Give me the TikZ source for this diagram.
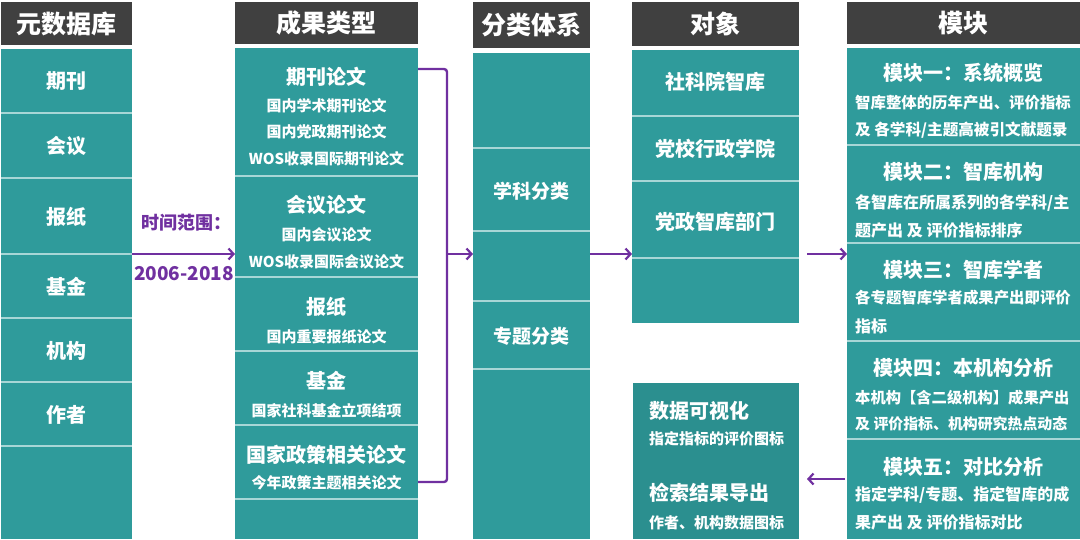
\documentclass[tikz,border=0pt]{standalone}
\usepackage{fontspec}
\setmainfont{Noto Sans CJK SC}
\usetikzlibrary{arrows.meta}
\definecolor{tealc}{HTML}{2F9B9B}
\definecolor{tealv}{HTML}{2B8F8F}
\definecolor{headc}{HTML}{404040}
\definecolor{divc}{HTML}{A8D6D6}
\definecolor{purp}{HTML}{7030A0}
\newcommand\mkcell[6]{\node[#2, minimum width=#5pt, minimum height=#6pt, anchor=north west] (#1) at (#3,#4) {};}
\newcommand\fs[1]{\fontsize{#1}{#1}\selectfont\bfseries}
\tikzset{
  cellbox/.style={fill=tealc, inner sep=0pt, outer sep=0pt},
  vizbox/.style={fill=tealv, inner sep=0pt, outer sep=0pt},
  headbox/.style={fill=headc, inner sep=0pt, outer sep=0pt},
  div/.style={draw=divc, line width=1.5pt},
  headtxt/.style={text=white, inner sep=0pt, font=\fs{25}},
  titletxt/.style={text=white, inner sep=0pt, font=\fs{20}},
  subtxt/.style={text=white, inner sep=0pt, font=\fs{15}},
  modsub/.style={text=white, inner sep=0pt, font=\fs{#1}, anchor=west},
  modsub/.default=16,
  timetxt/.style={text=purp, inner sep=0pt, font=\fs{18}},
  flow/.style={draw=purp, line width=2.4pt, -{Straight Barb[length=5pt,width=11pt,line width=2.2pt]}},
  brk/.style={draw=purp, line width=2.4pt, rounded corners=3pt}
}
\begin{document}
\begin{tikzpicture}[x=1pt,y=-1pt]
\useasboundingbox[fill=white] (0,0) rectangle (1080,539);
% column 1
\mkcell{c1h}{headbox}{1}{2}{131}{43}
\mkcell{c1a}{cellbox}{1}{49}{131}{64}
\mkcell{c1b}{cellbox}{1}{113}{131}{65}
\mkcell{c1c}{cellbox}{1}{178}{131}{76}
\mkcell{c1d}{cellbox}{1}{254}{131}{64}
\mkcell{c1e}{cellbox}{1}{318}{131}{64}
\mkcell{c1f}{cellbox}{1}{382}{131}{64}
\mkcell{c1g}{cellbox}{1}{446}{131}{93}
% column 2
\mkcell{c2h}{headbox}{235}{2}{183}{42}
\mkcell{c2a}{cellbox}{235}{48}{183}{128}
\mkcell{c2b}{cellbox}{235}{176}{183}{101}
\mkcell{c2c}{cellbox}{235}{277}{183}{74}
\mkcell{c2d}{cellbox}{235}{351}{183}{74}
\mkcell{c2e}{cellbox}{235}{425}{183}{74}
\mkcell{c2f}{cellbox}{235}{499}{183}{40}
% column 3
\mkcell{c3h}{headbox}{473}{2}{117}{46}
\mkcell{c3a}{cellbox}{473}{53}{117}{95}
\mkcell{c3b}{cellbox}{473}{148}{117}{83}
\mkcell{c3c}{cellbox}{473}{231}{117}{70}
\mkcell{c3d}{cellbox}{473}{301}{117}{68}
\mkcell{c3e}{cellbox}{473}{369}{117}{170}
% column 4
\mkcell{c4h}{headbox}{632}{2}{167}{44}
\mkcell{c4a}{cellbox}{632}{50}{167}{66}
\mkcell{c4b}{cellbox}{632}{116}{167}{65}
\mkcell{c4c}{cellbox}{632}{181}{167}{77}
\mkcell{c4d}{cellbox}{632}{258}{167}{65}
\mkcell{c4v}{vizbox}{633}{383}{166}{156}
% column 5
\mkcell{c5h}{headbox}{847}{2}{233}{42}
\mkcell{c5a}{cellbox}{847}{48}{233}{97}
\mkcell{c5b}{cellbox}{847}{145}{233}{98}
\mkcell{c5c}{cellbox}{847}{243}{233}{98}
\mkcell{c5d}{cellbox}{847}{341}{233}{98}
\mkcell{c5e}{cellbox}{847}{439}{233}{100}
% dividers
\foreach \c in {c1a,c1b,c1c,c1d,c1e,c1f,c2a,c2b,c2c,c2d,c2e,c3a,c3b,c3c,c3d,c4a,c4b,c4c,c5a,c5b,c5c,c5d}
  \draw[div] (\c.south west) -- (\c.south east);
% headers
\node[headtxt] (t1h) at (c1h.center) {元数据库};
\node[headtxt] (t2h) at (c2h.center) {成果类型};
\node[headtxt] (t3h) at (c3h.center) {分类体系};
\node[headtxt] (t4h) at (c4h.center) {对象};
\node[headtxt] (t5h) at (c5h.center) {模块};
% column 1 texts
\node[titletxt] (t1a) at (66.5,81) {期刊};
\node[titletxt] (t1b) at (66.5,146) {会议};
\node[titletxt] (t1c) at (66.5,217) {报纸};
\node[titletxt] (t1d) at (66.5,287) {基金};
\node[titletxt] (t1e) at (66.5,351) {机构};
\node[titletxt] (t1f) at (66.5,415) {作者};
% column 2 texts
\node[titletxt] (t2a) at (326.5,77) {期刊论文};
\node[subtxt] (t2a1) at (326.5,106) {国内学术期刊论文};
\node[subtxt] (t2a2) at (326.5,132) {国内党政期刊论文};
\node[subtxt] (t2a3) at (326.5,159) {WOS收录国际期刊论文};
\node[titletxt] (t2b) at (326.5,205) {会议论文};
\node[subtxt] (t2b1) at (326.5,235) {国内会议论文};
\node[subtxt] (t2b2) at (326.5,262) {WOS收录国际会议论文};
\node[titletxt] (t2c) at (326.5,307) {报纸};
\node[subtxt] (t2c1) at (326.5,337) {国内重要报纸论文};
\node[titletxt] (t2d) at (326.5,381) {基金};
\node[subtxt] (t2d1) at (326.5,411) {国家社科基金立项结项};
\node[titletxt] (t2e) at (326.5,455) {国家政策相关论文};
\node[subtxt] (t2e1) at (326.5,483) {今年政策主题相关论文};
% column 3 texts
\node[titletxt, font=\fs{19}] (t3a) at (531.5,191) {学科分类};
\node[titletxt, font=\fs{19}] (t3b) at (531.5,336) {专题分类};
% column 4 texts
\node[titletxt] (t4a) at (715.5,82) {社科院智库};
\node[titletxt] (t4b) at (715.5,149) {党校行政学院};
\node[titletxt] (t4c) at (715.5,222) {党政智库部门};
\node[titletxt, anchor=west] (t4v1) at (649,411) {数据可视化};
\node[subtxt, anchor=west] (t4v2) at (649,439) {指定指标的评价图标};
\node[titletxt, anchor=west] (t4v3) at (649,493) {检索结果导出};
\node[subtxt, anchor=west] (t4v4) at (649,523) {作者、机构数据图标};
% column 5 texts
\node[titletxt] (t5a) at (963.5,73) {模块一：系统概览};
\node[modsub=15.4] (t5a1) at (855,103) {智库整体的历年产出、评价指标};
\node[modsub=15.6] (t5a2) at (855,130) {及 各学科/主题高被引文献题录};
\node[titletxt] (t5b) at (963.5,172) {模块二：智库机构};
\node[modsub=16] (t5b1) at (855,203) {各智库在所属系列的各学科/主};
\node[modsub=16] (t5b2) at (855,230) {题产出 及 评价指标排序};
\node[titletxt] (t5c) at (963.5,270) {模块三：智库学者};
\node[modsub=15.4] (t5c1) at (855,298) {各专题智库学者成果产出即评价};
\node[modsub=16] (t5c2) at (855,326) {指标};
\node[titletxt] (t5d) at (963.5,368) {模块四：本机构分析};
\node[modsub=15.3] (t5d1) at (855,398) {本机构【含二级机构】成果产出};
\node[modsub=14.9] (t5d2) at (855,424) {及 评价指标、机构研究热点动态};
\node[titletxt] (t5e) at (963.5,467) {模块五：对比分析};
\node[modsub=16] (t5e1) at (855,495) {指定学科/专题、指定智库的成};
\node[modsub=16] (t5e2) at (855,522) {果产出 及 评价指标对比};
% time range
\node[timetxt] (tr1) at (186,223) {时间范围：};
\node[timetxt, font=\fs{19}] (tr2) at (184,274) {2006-2018};
% connectors
\draw[flow] (c1c.south east) -- (c1c.south east -| c2b.west);
\coordinate (bt) at (418,69);
\coordinate (bm) at (447,254);
\coordinate (bb) at (418,482);
\draw[brk] (bt) -| (bm) |- (bb);
\draw[flow] (bm) -- (bm -| c3c.west);
\draw[flow] (bm -| c3c.east) -- (bm -| c4c.west);
\draw[flow, shorten <=8pt] (bm -| c4c.east) -- (bm -| c5c.west);
\coordinate (back) at (847,479);
\draw[flow, shorten >=8pt, shorten <=2pt] (back) -- (back -| c4v.east);
\end{tikzpicture}
\end{document}
